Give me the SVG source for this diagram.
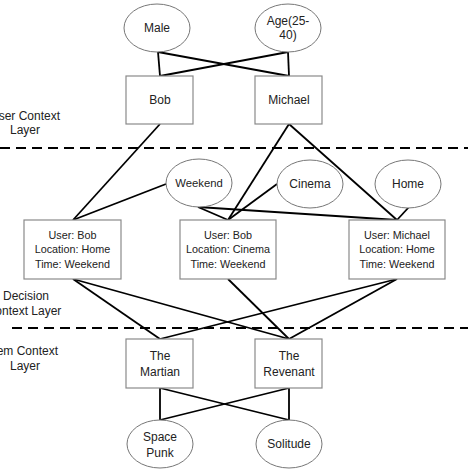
<svg xmlns="http://www.w3.org/2000/svg" width="474" height="474" viewBox="0 0 474 474">
<style>
text{font-family:"Liberation Sans",Arial,sans-serif;font-size:12px;fill:#222;text-anchor:middle}
.box{fill:#fff;stroke:#8a8a8a;stroke-width:1.2}
.ell{fill:#fff;stroke:#777;stroke-width:1}
.c line{stroke:#000;stroke-width:1.8}
.d{stroke:#000;stroke-width:2;stroke-dasharray:10 6}
.small{font-size:10.8px}
</style>
<rect width="474" height="474" fill="#fff"/>
<line class="d" x1="0" y1="148" x2="468" y2="148"/>
<line class="d" x1="12" y1="328" x2="468" y2="328"/>
<g id="labels">
<text x="25" y="120">User Context</text><text x="25" y="134">Layer</text>
<text x="26" y="300">Decision</text><text x="24" y="315">Context Layer</text>
<text x="24" y="355">Item Context</text><text x="25" y="370">Layer</text>
</g>
<g class="c" id="connectors">
<line x1="158" y1="52" x2="160" y2="76"/>
<line x1="158" y1="52" x2="289" y2="76"/>
<line x1="288" y1="52" x2="160" y2="76"/>
<line x1="288" y1="52" x2="289" y2="76"/>
<line x1="160" y1="124" x2="73" y2="220"/>
<line x1="289" y1="124" x2="228" y2="220"/>
<line x1="289" y1="124" x2="397" y2="220"/>
<line x1="166" y1="184" x2="73" y2="220"/>
<line x1="198" y1="207" x2="228" y2="220"/>
<line x1="198" y1="207" x2="397" y2="220"/>
<line x1="277" y1="184" x2="228" y2="220"/>
<line x1="409" y1="207" x2="397" y2="220"/>
<line x1="73" y1="279" x2="160" y2="339"/>
<line x1="73" y1="279" x2="289" y2="339"/>
<line x1="228" y1="279" x2="289" y2="339"/>
<line x1="397" y1="279" x2="160" y2="339"/>
<line x1="397" y1="279" x2="289" y2="339"/>
<line x1="160" y1="388" x2="160" y2="420"/>
<line x1="160" y1="388" x2="289" y2="420"/>
<line x1="289" y1="388" x2="160" y2="420"/>
<line x1="289" y1="388" x2="289" y2="420"/>
</g>
<g id="male"><ellipse class="ell" cx="157" cy="28" rx="33" ry="24"/><text x="157" y="32">Male</text></g>
<g id="age"><ellipse class="ell" cx="288" cy="28" rx="33" ry="24"/><text x="288" y="25">Age(25-</text><text x="288" y="39">40)</text></g>
<g id="bob"><rect class="box" x="126" y="76" width="67" height="48"/><text x="160" y="104">Bob</text></g>
<g id="michael"><rect class="box" x="255" y="76" width="67" height="48"/><text x="289" y="104">Michael</text></g>
<g id="weekend"><ellipse class="ell" cx="199" cy="183" rx="33" ry="24"/><text x="199" y="187" style="font-size:11.3px">Weekend</text></g>
<g id="cinema"><ellipse class="ell" cx="310" cy="184" rx="33" ry="24"/><text x="310" y="188">Cinema</text></g>
<g id="home"><ellipse class="ell" cx="408" cy="184" rx="33" ry="24"/><text x="408" y="188">Home</text></g>
<g id="ctx-bob-home"><rect class="box" x="24" y="220" width="97" height="59"/>
<text class="small" x="72.5" y="239">User: Bob</text><text class="small" x="72.5" y="253">Location: Home</text><text class="small" x="72.5" y="268">Time: Weekend</text></g>
<g id="ctx-bob-cinema"><rect class="box" x="180" y="220" width="96" height="59"/>
<text class="small" x="228" y="239">User: Bob</text><text class="small" x="228" y="253">Location: Cinema</text><text class="small" x="228" y="268">Time: Weekend</text></g>
<g id="ctx-michael-home"><rect class="box" x="349" y="220" width="96" height="59"/>
<text class="small" x="397" y="239">User: Michael</text><text class="small" x="397" y="253">Location: Home</text><text class="small" x="397" y="268">Time: Weekend</text></g>
<g id="martian"><rect class="box" x="126" y="339" width="67" height="49"/><text x="160" y="360">The</text><text x="160" y="376">Martian</text></g>
<g id="revenant"><rect class="box" x="255" y="339" width="67" height="49"/><text x="289" y="360">The</text><text x="289" y="376">Revenant</text></g>
<g id="spacepunk"><ellipse class="ell" cx="160" cy="444" rx="33" ry="24"/><text x="160" y="441">Space</text><text x="160" y="457">Punk</text></g>
<g id="solitude"><ellipse class="ell" cx="289" cy="444" rx="33" ry="24"/><text x="289" y="448">Solitude</text></g>
</svg>
